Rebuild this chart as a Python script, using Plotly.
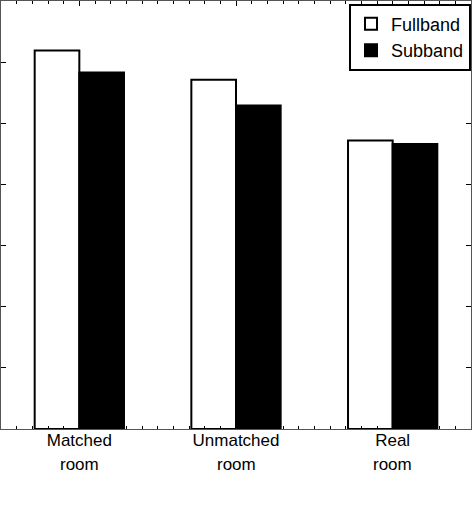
import plotly.graph_objects as go

rooms = ['Matched', 'Unmatched', 'Real']
room_line2 = ['room', 'room', 'room']
room_pos = [1, 2, 3]
fullband = [6.19, 5.71, 4.72]
subband = [5.83, 5.29, 4.66]

fig = go.Figure()
fig.add_trace(go.Bar(x=room_pos, y=fullband, name='Fullband',
                     marker=dict(color='white', line=dict(color='black', width=2))))
fig.add_trace(go.Bar(x=room_pos, y=subband, name='Subband',
                     marker=dict(color='black', line=dict(color='black', width=2))))
# invisible trace so the top axis (minor ticks) gets drawn
fig.add_trace(go.Scatter(x=room_pos, y=[None] * 3, xaxis='x2', showlegend=False, hoverinfo='skip'))

for pos, txt in zip(room_pos, room_line2):
    fig.add_annotation(x=pos, xref='x', y=0, yref='paper', yanchor='top', yshift=-24,
                       text=txt, showarrow=False, font=dict(size=17))

tick_style = dict(ticks='inside', ticklen=5, tickcolor='black',
                  showline=True, linecolor='#555', linewidth=1,
                  showgrid=False, zeroline=False)

fig.update_layout(
    width=474, height=505,
    margin=dict(l=1, r=3, t=1, b=76, autoexpand=False),
    paper_bgcolor='white', plot_bgcolor='white',
    barmode='group', bargap=0.43, bargroupgap=0,
    font=dict(family='Liberation Sans, Arial', size=18, color='black'),
    legend=dict(x=1.0, y=0.994, xanchor='right', yanchor='top',
                bordercolor='black', borderwidth=2, bgcolor='white',
                itemwidth=30, font=dict(size=18)),
    xaxis=dict(range=[0.5, 3.5], tickmode='array', tickvals=room_pos, ticktext=rooms,
               ticklabelstandoff=-4, tickfont=dict(size=17),
               minor=dict(tick0=0.5, dtick=0.1, ticks='inside', ticklen=3, tickcolor='black'),
               **tick_style),
    xaxis2=dict(range=[0.5, 3.5], overlaying='x', side='top', tickmode='array',
                tickvals=room_pos, showticklabels=False,
                minor=dict(tick0=0.5, dtick=0.1, ticks='inside', ticklen=3, tickcolor='black'),
                **tick_style),
    yaxis=dict(range=[0, 7], dtick=1, showticklabels=False, mirror='ticks', **tick_style),
)

# drop the default 8px page margin so the figure sits at the window's corner
fig.write_html("out.html", config={'displayModeBar': False},
               post_script="document.body.style.margin='0';")
